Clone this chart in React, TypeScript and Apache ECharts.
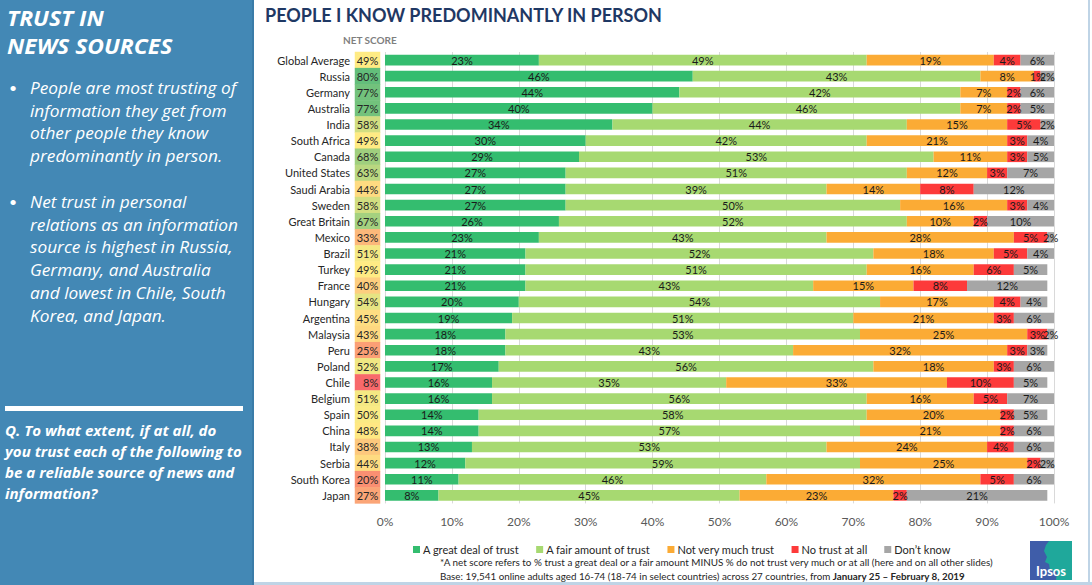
import React, { useEffect, useRef } from "react";
import * as echarts from "echarts";

const countries = [
  "Global Average", "Russia", "Germany", "Australia", "India", "South Africa", "Canada",
  "United States", "Saudi Arabia", "Sweden", "Great Britain", "Mexico", "Brazil", "Turkey",
  "France", "Hungary", "Argentina", "Malaysia", "Peru", "Poland", "Chile", "Belgium",
  "Spain", "China", "Italy", "Serbia", "South Korea", "Japan",
];
const netScore = [49, 80, 77, 77, 58, 49, 68, 63, 44, 58, 67, 33, 51, 49, 40, 54, 45, 43, 25, 52, 8, 51, 50, 48, 38, 44, 20, 27];
const greatDeal = [23, 46, 44, 40, 34, 30, 29, 27, 27, 27, 26, 23, 21, 21, 21, 20, 19, 18, 18, 17, 16, 16, 14, 14, 13, 12, 11, 8];
const fairAmount = [49, 43, 42, 46, 44, 42, 53, 51, 39, 50, 52, 43, 52, 51, 43, 54, 51, 53, 43, 56, 35, 56, 58, 57, 53, 59, 46, 45];
const notVeryMuch = [19, 8, 7, 7, 15, 21, 11, 12, 14, 16, 10, 28, 18, 16, 15, 17, 21, 25, 32, 18, 33, 16, 20, 21, 24, 25, 32, 23];
const noTrust = [4, 1, 2, 2, 5, 3, 3, 3, 8, 3, 2, 5, 5, 6, 8, 4, 3, 3, 3, 3, 10, 5, 2, 2, 4, 2, 5, 2];
const dontKnow = [6, 2, 6, 5, 2, 4, 5, 7, 12, 4, 10, 2, 4, 5, 12, 4, 6, 2, 3, 6, 5, 7, 5, 6, 6, 2, 6, 21];
const seriesNames = ["A great deal of trust", "A fair amount of trust", "Not very much trust", "No trust at all", "Don\u2019t know"];
const seriesColors = ["#34BD6F", "#A7D971", "#FBAB35", "#FD3A3A", "#A6A6A6"];
const xTicks = [0, 10, 20, 30, 40, 50, 60, 70, 80, 90, 100];

const FONT = "Lato, 'Open Sans', sans-serif";
const PANEL_FONT = "'Open Sans', Lato, sans-serif";

function hexToRgb(h: string) {
  const n = parseInt(h.slice(1), 16);
  return [(n >> 16) & 255, (n >> 8) & 255, n & 255];
}
function mix(a: string, b: string, t: number) {
  const A = hexToRgb(a), B = hexToRgb(b);
  const c = A.map((v, i) => Math.round(v + (B[i] - v) * t));
  return `rgb(${c[0]},${c[1]},${c[2]})`;
}
const netMin = Math.min(...netScore);
const netMax = Math.max(...netScore);
const sortedNet = [...netScore].sort((a, b) => a - b);
const netMid = (sortedNet[13] + sortedNet[14]) / 2;
function netColor(v: number) {
  if (v <= netMid) return mix("#F8696B", "#FFEB84", (v - netMin) / (netMid - netMin));
  return mix("#FFEB84", "#63BE7B", (v - netMid) / (netMax - netMid));
}
const netStops: string[] = [];
for (let v = netMin; v <= netMax; v += 1) netStops.push(netColor(v));

function txt(text: string, x: number, y: number, o: any = {}) {
  return {
    type: "text",
    x,
    y,
    scaleX: o.scaleX || 1,
    silent: true,
    style: {
      text,
      fill: o.fill || "#fff",
      fontSize: o.fontSize || 12,
      fontFamily: o.fontFamily || FONT,
      fontWeight: o.fontWeight || "normal",
      fontStyle: o.fontStyle || "normal",
      textAlign: o.align || "left",
      align: o.align || "left",
      textVerticalAlign: "middle",
      verticalAlign: "middle",
    },
  };
}

export default function App() {
  const ref = useRef<HTMLDivElement>(null);
  useEffect(() => {
    document.body.style.margin = "0";
    const chart = echarts.init(ref.current!, null, { renderer: "svg" });
    const data = [greatDeal, fairAmount, notVeryMuch, noTrust, dontKnow];

    const panelItal = { fontSize: 16, fontStyle: "italic", fontWeight: "normal", fontFamily: PANEL_FONT, scaleX: 1.08 };
    const bullet1 = ["People are most trusting of", "information they get from", "other people they know", "predominantly in person."];
    const bullet1Y = [88, 110.5, 133, 156];
    const bullet2 = ["Net trust in personal", "relations as an information", "source is highest in Russia,", "Germany, and Australia", "and lowest in Chile, South", "Korea, and Japan."];
    const bullet2Y = [202, 224.5, 247, 270, 293, 316];
    const qLines = ["Q. To what extent, if at all, do", "you trust each of the following to", "be a reliable source of news and", "information?"];
    const qY = [430, 451, 472, 493];
    const titleStyle = { fontSize: 21, fontWeight: "bold", fontStyle: "italic", fontFamily: PANEL_FONT, scaleX: 1.09 };

    const graphics: any[] = [
      { type: "rect", shape: { x: 0, y: 0, width: 254, height: 585 }, style: { fill: "#4388B5" }, silent: true },
      { type: "rect", shape: { x: 252, y: 0, width: 2, height: 585 }, style: { fill: "#3A7CA8" }, silent: true },
      { type: "rect", shape: { x: 254, y: 582, width: 838, height: 3 }, style: { fill: "#BFD4E6" }, silent: true },
      { type: "rect", shape: { x: 1088, y: 0, width: 2, height: 585 }, style: { fill: "#BFD4E6" }, silent: true },
      txt("TRUST IN", 7, 18, titleStyle),
      txt("NEWS SOURCES", 7, 46, titleStyle),
      txt("\u2022", 9, 87, { fontSize: 14 }),
      txt("\u2022", 9, 201, { fontSize: 14 }),
      ...bullet1.map((t, i) => txt(t, 30, bullet1Y[i], panelItal)),
      ...bullet2.map((t, i) => txt(t, 30, bullet2Y[i], panelItal)),
      { type: "rect", shape: { x: 5, y: 406, width: 238, height: 5 }, style: { fill: "#ffffff" }, silent: true },
      ...qLines.map((t, i) => txt(t, 5, qY[i], { fontSize: 14.5, fontWeight: "bold", fontStyle: "italic", fontFamily: PANEL_FONT, scaleX: 1.04 })),
      txt("PEOPLE I KNOW PREDOMINANTLY IN PERSON", 265, 15, { fontSize: 18, fontWeight: "bold", fill: "#1F3864" }),
      txt("NET SCORE", 343, 40, { fontSize: 10, fontWeight: "bold", fill: "#7F7F7F" }),
      txt("*A net score refers to % trust a great deal or a fair amount MINUS % do not trust very much or at all (here and on all other slides)", 440, 562, { fontSize: 9.9, fill: "#262626" }),
      {
        type: "text",
        x: 440,
        y: 576,
        silent: true,
        style: {
          text: "{n|Base: 19,541 online adults aged 16-74 (18-74 in select countries) across 27 countries, from }{b|January 25 \u2013 February 8, 2019}",
          textVerticalAlign: "middle",
          verticalAlign: "middle",
          rich: {
            n: { fontSize: 9.8, fontFamily: FONT, fill: "#262626", color: "#262626" },
            b: { fontSize: 9.8, fontFamily: FONT, fontWeight: "bold", fill: "#262626", color: "#262626" },
          },
        },
      },
      { type: "rect", shape: { x: 1030, y: 541, width: 42, height: 39 }, style: { fill: "#3F5DA9" }, silent: true },
      {
        type: "polygon",
        silent: true,
        shape: {
          points: [[1049, 541], [1072, 541], [1072, 580], [1056, 580], [1057, 572], [1050, 570], [1049, 564], [1045, 562], [1047, 557], [1044, 551], [1046, 545]],
        },
        style: { fill: "#1FA89B" },
      },
      txt("Ipsos", 1051, 571, { fontSize: 13, fontWeight: "bold", fill: "#fff", align: "center" }),
    ];

    const series: any[] = data.map((vals, si) => ({
      name: seriesNames[si],
      type: "bar",
      stack: "total",
      xAxisIndex: 0,
      yAxisIndex: 0,
      barWidth: "66%",
      data: vals,
      itemStyle: { color: seriesColors[si] },
      label: {
        show: true,
        position: "inside",
        formatter: (p: any) => `${p.value}%`,
        color: "#1a1a1a",
        fontSize: 11,
        fontFamily: FONT,
      },
      emphasis: { disabled: true },
    }));
    series.push({
      type: "heatmap",
      xAxisIndex: 1,
      yAxisIndex: 1,
      data: netScore.map((v, i) => [0, i, v]),
      label: {
        show: true,
        position: "insideRight",
        distance: 2,
        formatter: (p: any) => `${p.value[2]}%`,
        color: "#262626",
        fontSize: 11,
        fontFamily: FONT,
      },
      emphasis: { disabled: true },
    });

    chart.setOption({
      animation: false,
      textStyle: { fontFamily: FONT },
      graphic: graphics,
      visualMap: {
        show: false,
        type: "continuous",
        seriesIndex: 5,
        dimension: 2,
        min: netMin,
        max: netMax,
        inRange: { color: netStops },
      },
      legend: {
        data: seriesNames,
        left: 408,
        top: 539,
        icon: "rect",
        itemWidth: 7,
        itemHeight: 7,
        itemGap: 17,
        selectedMode: false,
        textStyle: { fontSize: 11, color: "#262626", fontFamily: FONT, padding: [0, 0, 0, -2] },
      },
      grid: [
        { left: 385, right: 38, top: 52, bottom: 81.6, containLabel: false },
        { left: 355, width: 25, top: 52, bottom: 81.6, containLabel: false },
      ],
      xAxis: [
        {
          type: "value",
          gridIndex: 0,
          min: 0,
          max: 100,
          interval: 10,
          axisLine: { show: false },
          axisTick: { show: false },
          splitLine: { show: true, lineStyle: { color: "#D9D9D9", width: 1 } },
          axisLabel: { formatter: (v: number) => (xTicks.includes(v) ? `${v}%` : ""), color: "#595959", fontSize: 12, margin: 12, fontFamily: FONT },
        },
        { type: "category", gridIndex: 1, data: ["net"], show: false },
      ],
      yAxis: [
        {
          type: "category",
          gridIndex: 0,
          data: countries,
          inverse: true,
          axisLine: { show: false },
          axisTick: { show: false },
          axisLabel: { color: "#262626", fontSize: 11, margin: 35, fontFamily: FONT },
        },
        { type: "category", gridIndex: 1, data: countries, inverse: true, show: false },
      ],
      series,
    });
    return () => chart.dispose();
  }, []);
  return <div ref={ref} style={{ width: 1092, height: 585 }} />;
}
